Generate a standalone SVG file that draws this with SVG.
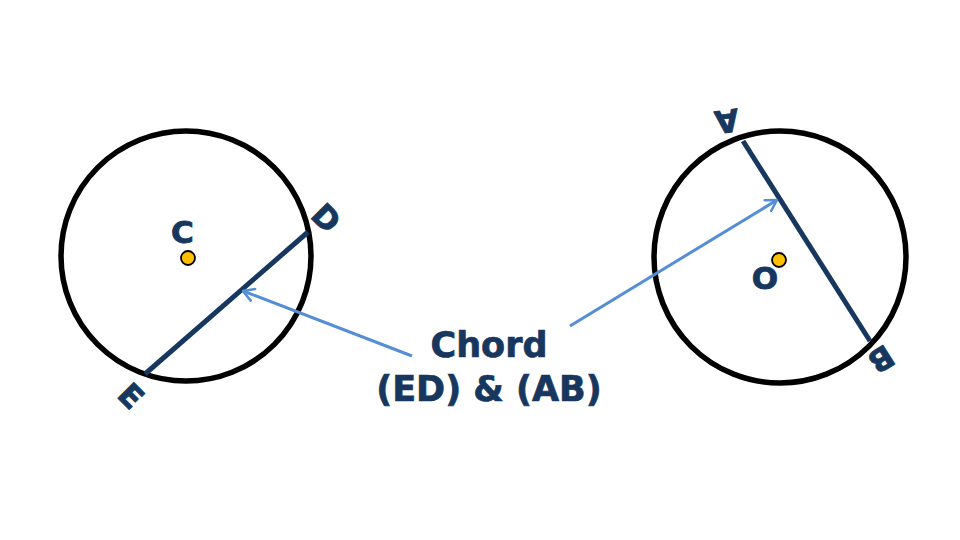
<svg xmlns="http://www.w3.org/2000/svg" width="960" height="540" viewBox="0 0 960 540">
<style>
.circ{fill:none;stroke:#000;stroke-width:5.5}
.chord{stroke:#17375E;stroke-width:5;stroke-linecap:butt}
.dot{fill:#FFC000;stroke:#000;stroke-width:1.8}
.lbl{font-family:"DejaVu Sans","Verdana",sans-serif;font-weight:bold;font-size:31px;fill:#17375E;stroke:#17375E;stroke-width:0.9;text-anchor:middle}
.title{font-family:"DejaVu Sans","Verdana",sans-serif;font-weight:bold;font-size:35px;fill:#17375E;stroke:#17375E;stroke-width:0.7;text-anchor:middle}
.arr{stroke:#558ED5;stroke-width:3;fill:none;marker-end:url(#ah)}
</style>
<defs>
<marker id="ah" viewBox="0 0 12 12" refX="10.5" refY="6" markerWidth="5" markerHeight="5" markerUnits="strokeWidth" orient="auto">
<path d="M2,1 L10.5,6 L2,11" fill="none" stroke="#558ED5" stroke-width="2" stroke-linecap="round" stroke-linejoin="round"/>
</marker>
</defs>
<rect width="960" height="540" fill="#fff"/>
<g id="circle-left">
<circle class="circ" cx="186" cy="256" r="125"/>
<line class="chord" x1="145" y1="374" x2="308" y2="232"/>
<circle class="dot" cx="188" cy="258" r="7"/>
<text class="lbl" x="182.5" y="243">C</text>
<text class="lbl" transform="translate(326,218) rotate(45)" x="0" y="11">D</text>
<text class="lbl" transform="translate(131,396) rotate(45)" x="0" y="11">E</text>
</g>
<g id="circle-right">
<circle class="circ" cx="780" cy="257" r="126"/>
<line class="chord" x1="743" y1="141" x2="870" y2="341"/>
<circle class="dot" cx="779" cy="260" r="7"/>
<text class="lbl" x="765" y="289">O</text>
<text class="lbl" transform="translate(727,121) rotate(172)" x="0" y="11">A</text>
<text class="lbl" transform="translate(881,359) rotate(148)" x="0" y="11">B</text>
</g>
<g id="label">
<text class="title" x="489" y="357">Chord</text>
<text class="title" x="489" y="401">(ED) &amp; (AB)</text>
</g>
<g id="connectors">
<line class="arr" x1="412" y1="356" x2="243" y2="291"/>
<line class="arr" x1="570" y1="326" x2="777" y2="200"/>
</g>
</svg>
